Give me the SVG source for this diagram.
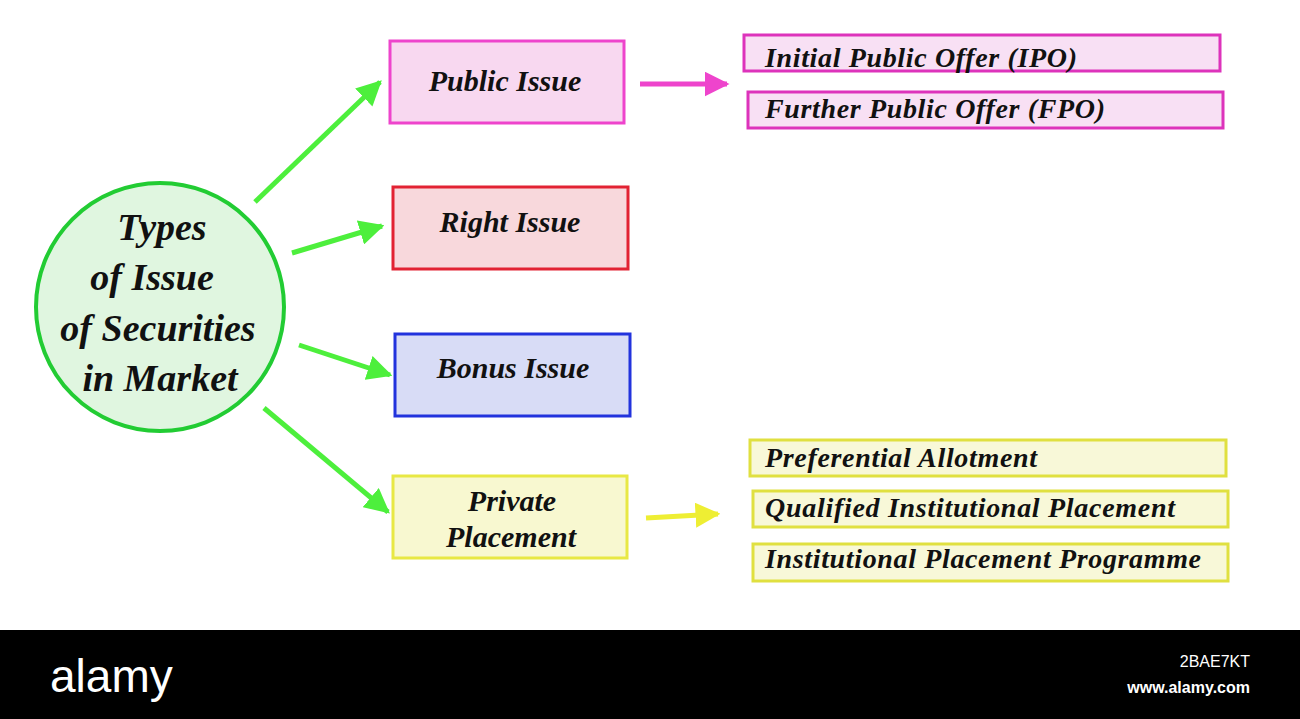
<svg xmlns="http://www.w3.org/2000/svg" width="1300" height="719" viewBox="0 0 1300 719">
<style>
text{font-family:"Liberation Serif",serif;font-style:italic;font-weight:bold;fill:#111;}
.m{font-size:30px;text-anchor:middle}
.s{font-size:28px}
.c{font-size:38px;text-anchor:middle}
.g{stroke:#4def3c;stroke-width:5;fill:none}
</style>
<defs>
<marker id="ag" viewBox="0 0 10 10" refX="9" refY="5" markerWidth="5" markerHeight="5" orient="auto" markerUnits="strokeWidth"><path d="M0,0L10,5L0,10Z" fill="#4def3c"/></marker>
<marker id="ap" viewBox="0 0 10 10" refX="9" refY="5" markerWidth="5" markerHeight="5" orient="auto" markerUnits="strokeWidth"><path d="M0,0L10,5L0,10Z" fill="#ee44cc"/></marker>
<marker id="ay" viewBox="0 0 10 10" refX="9" refY="5" markerWidth="5" markerHeight="5" orient="auto" markerUnits="strokeWidth"><path d="M0,0L10,5L0,10Z" fill="#eeee33"/></marker>
</defs>
<rect width="1300" height="719" fill="#fff"/>
<g id="center"><ellipse cx="160" cy="307" rx="124" ry="124" fill="#e0f6e0" stroke="#22cc33" stroke-width="4"/>
<text class="c" x="162" y="240">Types</text><text class="c" x="152" y="290">of Issue</text><text class="c" x="158" y="341">of Securities</text><text class="c" x="160" y="391">in Market</text></g>
<g id="connectors">
<line class="g" x1="255" y1="202" x2="380" y2="82" marker-end="url(#ag)"/>
<line class="g" x1="292" y1="253" x2="382" y2="226" marker-end="url(#ag)"/>
<line class="g" x1="299" y1="345" x2="390" y2="375" marker-end="url(#ag)"/>
<line class="g" x1="264" y1="408" x2="388" y2="512" marker-end="url(#ag)"/>
<line stroke="#ee44cc" stroke-width="5" x1="640" y1="84" x2="727" y2="84" marker-end="url(#ap)"/>
<line stroke="#eeee33" stroke-width="5" x1="646" y1="518" x2="718" y2="514" marker-end="url(#ay)"/>
</g>
<g id="public"><rect x="390" y="41" width="234" height="82" fill="#f8d8f0" stroke="#ee44cc" stroke-width="3"/><text class="m" x="505" y="91">Public  Issue</text></g>
<g id="right"><rect x="393" y="187" width="235" height="82" fill="#f8d8dc" stroke="#e22233" stroke-width="3"/><text class="m" x="510" y="232">Right Issue</text></g>
<g id="bonus"><rect x="395" y="334" width="235" height="82" fill="#d8dcf6" stroke="#2233dd" stroke-width="3"/><text class="m" x="513" y="378">Bonus Issue</text></g>
<g id="private"><rect x="393" y="476" width="234" height="82" fill="#f8f8d0" stroke="#e8e844" stroke-width="3"/><text class="m" x="512" y="511">Private</text><text class="m" x="511" y="547">Placement</text></g>
<g id="ipo"><rect x="744" y="35" width="476" height="36" fill="#f8e0f4" stroke="#dd33bb" stroke-width="3"/><text class="s" x="765" y="67" textLength="312">Initial Public Offer (IPO)</text></g>
<g id="fpo"><rect x="748" y="92" width="475" height="36" fill="#f8e0f4" stroke="#dd33bb" stroke-width="3"/><text class="s" x="765" y="118" textLength="340">Further Public Offer (FPO)</text></g>
<g id="pa"><rect x="750" y="440" width="476" height="36" fill="#f8f8d8" stroke="#e0e040" stroke-width="3"/><text class="s" x="765" y="467" textLength="272">Preferential Allotment</text></g>
<g id="qip"><rect x="753" y="491" width="475" height="36" fill="#f8f8d8" stroke="#e0e040" stroke-width="3"/><text class="s" x="765" y="517" textLength="410">Qualified Institutional Placement</text></g>
<g id="ipp"><rect x="753" y="544" width="475" height="37" fill="#f8f8d8" stroke="#e0e040" stroke-width="3"/><text class="s" x="765" y="568" textLength="436">Institutional Placement Programme</text></g>
<g id="footer"><rect x="0" y="630" width="1300" height="89" fill="#000"/>
<text x="50" y="692" style="font-family:'Liberation Sans',sans-serif;font-style:normal;font-weight:normal;font-size:46px;fill:#fff">alamy</text>
<text x="1250" y="667" text-anchor="end" style="font-family:'Liberation Sans',sans-serif;font-style:normal;font-weight:normal;font-size:16px;fill:#fff">2BAE7KT</text>
<text x="1250" y="693" text-anchor="end" style="font-family:'Liberation Sans',sans-serif;font-style:normal;font-size:16px;fill:#fff">www.alamy.com</text></g>
</svg>
